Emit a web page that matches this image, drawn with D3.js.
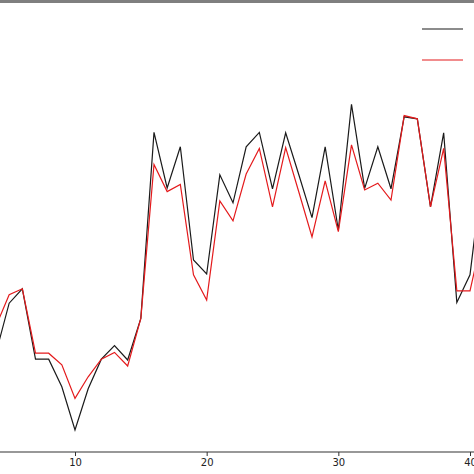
<!DOCTYPE html>
<html>
<head>
<meta charset="utf-8">
<script src="https://cdnjs.cloudflare.com/ajax/libs/d3/7.8.5/d3.min.js"></script>
<style>
	body { margin: 0; background: #fff; }
	svg { display: block; }
</style>
</head>
<body>
<div id="chart"></div>
<script>
var steps = [4, 5, 6, 7, 8, 9, 10, 11, 12, 13, 14, 15, 16, 17, 18, 19, 20, 21, 22,
	23, 24, 25, 26, 27, 28, 29, 30, 31, 32, 33, 34, 35, 36, 37, 38, 39, 40, 41];

var blackValues = [24.8, 37.2, 40.8, 23.2, 23.2, 16.3, 5.5, 15.8, 23.2, 26.6, 23.0, 33.4,
	79.9, 66.0, 76.3, 48.0, 44.5, 69.3, 62.3, 76.3, 79.9, 65.8, 79.8, 69.3, 58.6, 76.3,
	55.5, 86.9, 65.9, 76.3, 65.8, 83.8, 83.3, 61.3, 79.8, 37.4, 44.3, 71.3];

var redValues = [31.5, 39.3, 40.8, 24.7, 24.7, 21.8, 13.4, 18.8, 23.2, 24.9, 21.5, 33.4,
	71.9, 65.1, 66.9, 44.3, 38.0, 62.8, 57.8, 69.5, 75.9, 61.3, 76.1, 65.0, 53.8, 67.8,
	55.1, 76.8, 65.5, 67.2, 63.0, 84.1, 83.3, 61.3, 75.9, 40.3, 40.3, 55.0];

var xTicks = [10, 20, 30, 40];

var width = 474, height = 474;

var svg = d3.select("#chart").append("svg")
	.attr("width", width)
	.attr("height", height);

// gray strip along the top edge
svg.append("rect")
	.attr("x", 0).attr("y", 0)
	.attr("width", width).attr("height", 3)
	.attr("fill", "#7f7f7f");

var x = d3.scaleLinear().domain([10, 40]).range([75, 470]);
var y = d3.scaleLinear().domain([0, 100]).range([452, 52]);

var xAxis = d3.axisBottom(x)
	.tickValues(xTicks)
	.tickFormat(d3.format("d"))
	.tickSize(4)
	.tickPadding(3);

var axisG = svg.append("g")
	.attr("transform", "translate(0," + y(0) + ")")
	.call(xAxis);

axisG.select(".domain").remove();
axisG.append("line")
	.attr("x1", 0).attr("x2", width)
	.attr("y1", 0).attr("y2", 0)
	.attr("stroke", "#333")
	.attr("stroke-width", 1.2);
axisG.selectAll(".tick line").attr("stroke", "#333");
axisG.selectAll(".tick text")
	.attr("fill", "#222")
	.style("font-family", "DejaVu Sans, sans-serif")
	.style("font-size", "10px");

function series(values){
	return steps.map(function(s, i){ return {x: s, y: values[i]}; });
}

var line = d3.line()
	.x(function(d){ return x(d.x); })
	.y(function(d){ return y(d.y); });

svg.append("path")
	.datum(series(blackValues))
	.attr("d", line)
	.attr("fill", "none")
	.attr("stroke", "#1a1a1a")
	.attr("stroke-width", 1.2);

svg.append("path")
	.datum(series(redValues))
	.attr("d", line)
	.attr("fill", "none")
	.attr("stroke", "#e41a1c")
	.attr("stroke-width", 1.2);

// legend handles (labels fall outside the visible area)
var legend = [{color: "#1a1a1a", y: 29}, {color: "#e41a1c", y: 60}];
svg.selectAll(".legend")
	.data(legend)
	.enter().append("line")
		.attr("class", "legend")
		.attr("x1", 422).attr("x2", 463)
		.attr("y1", function(d){ return d.y; })
		.attr("y2", function(d){ return d.y; })
		.attr("stroke", function(d){ return d.color; })
		.attr("stroke-width", 1.2);
</script>
</body>
</html>
